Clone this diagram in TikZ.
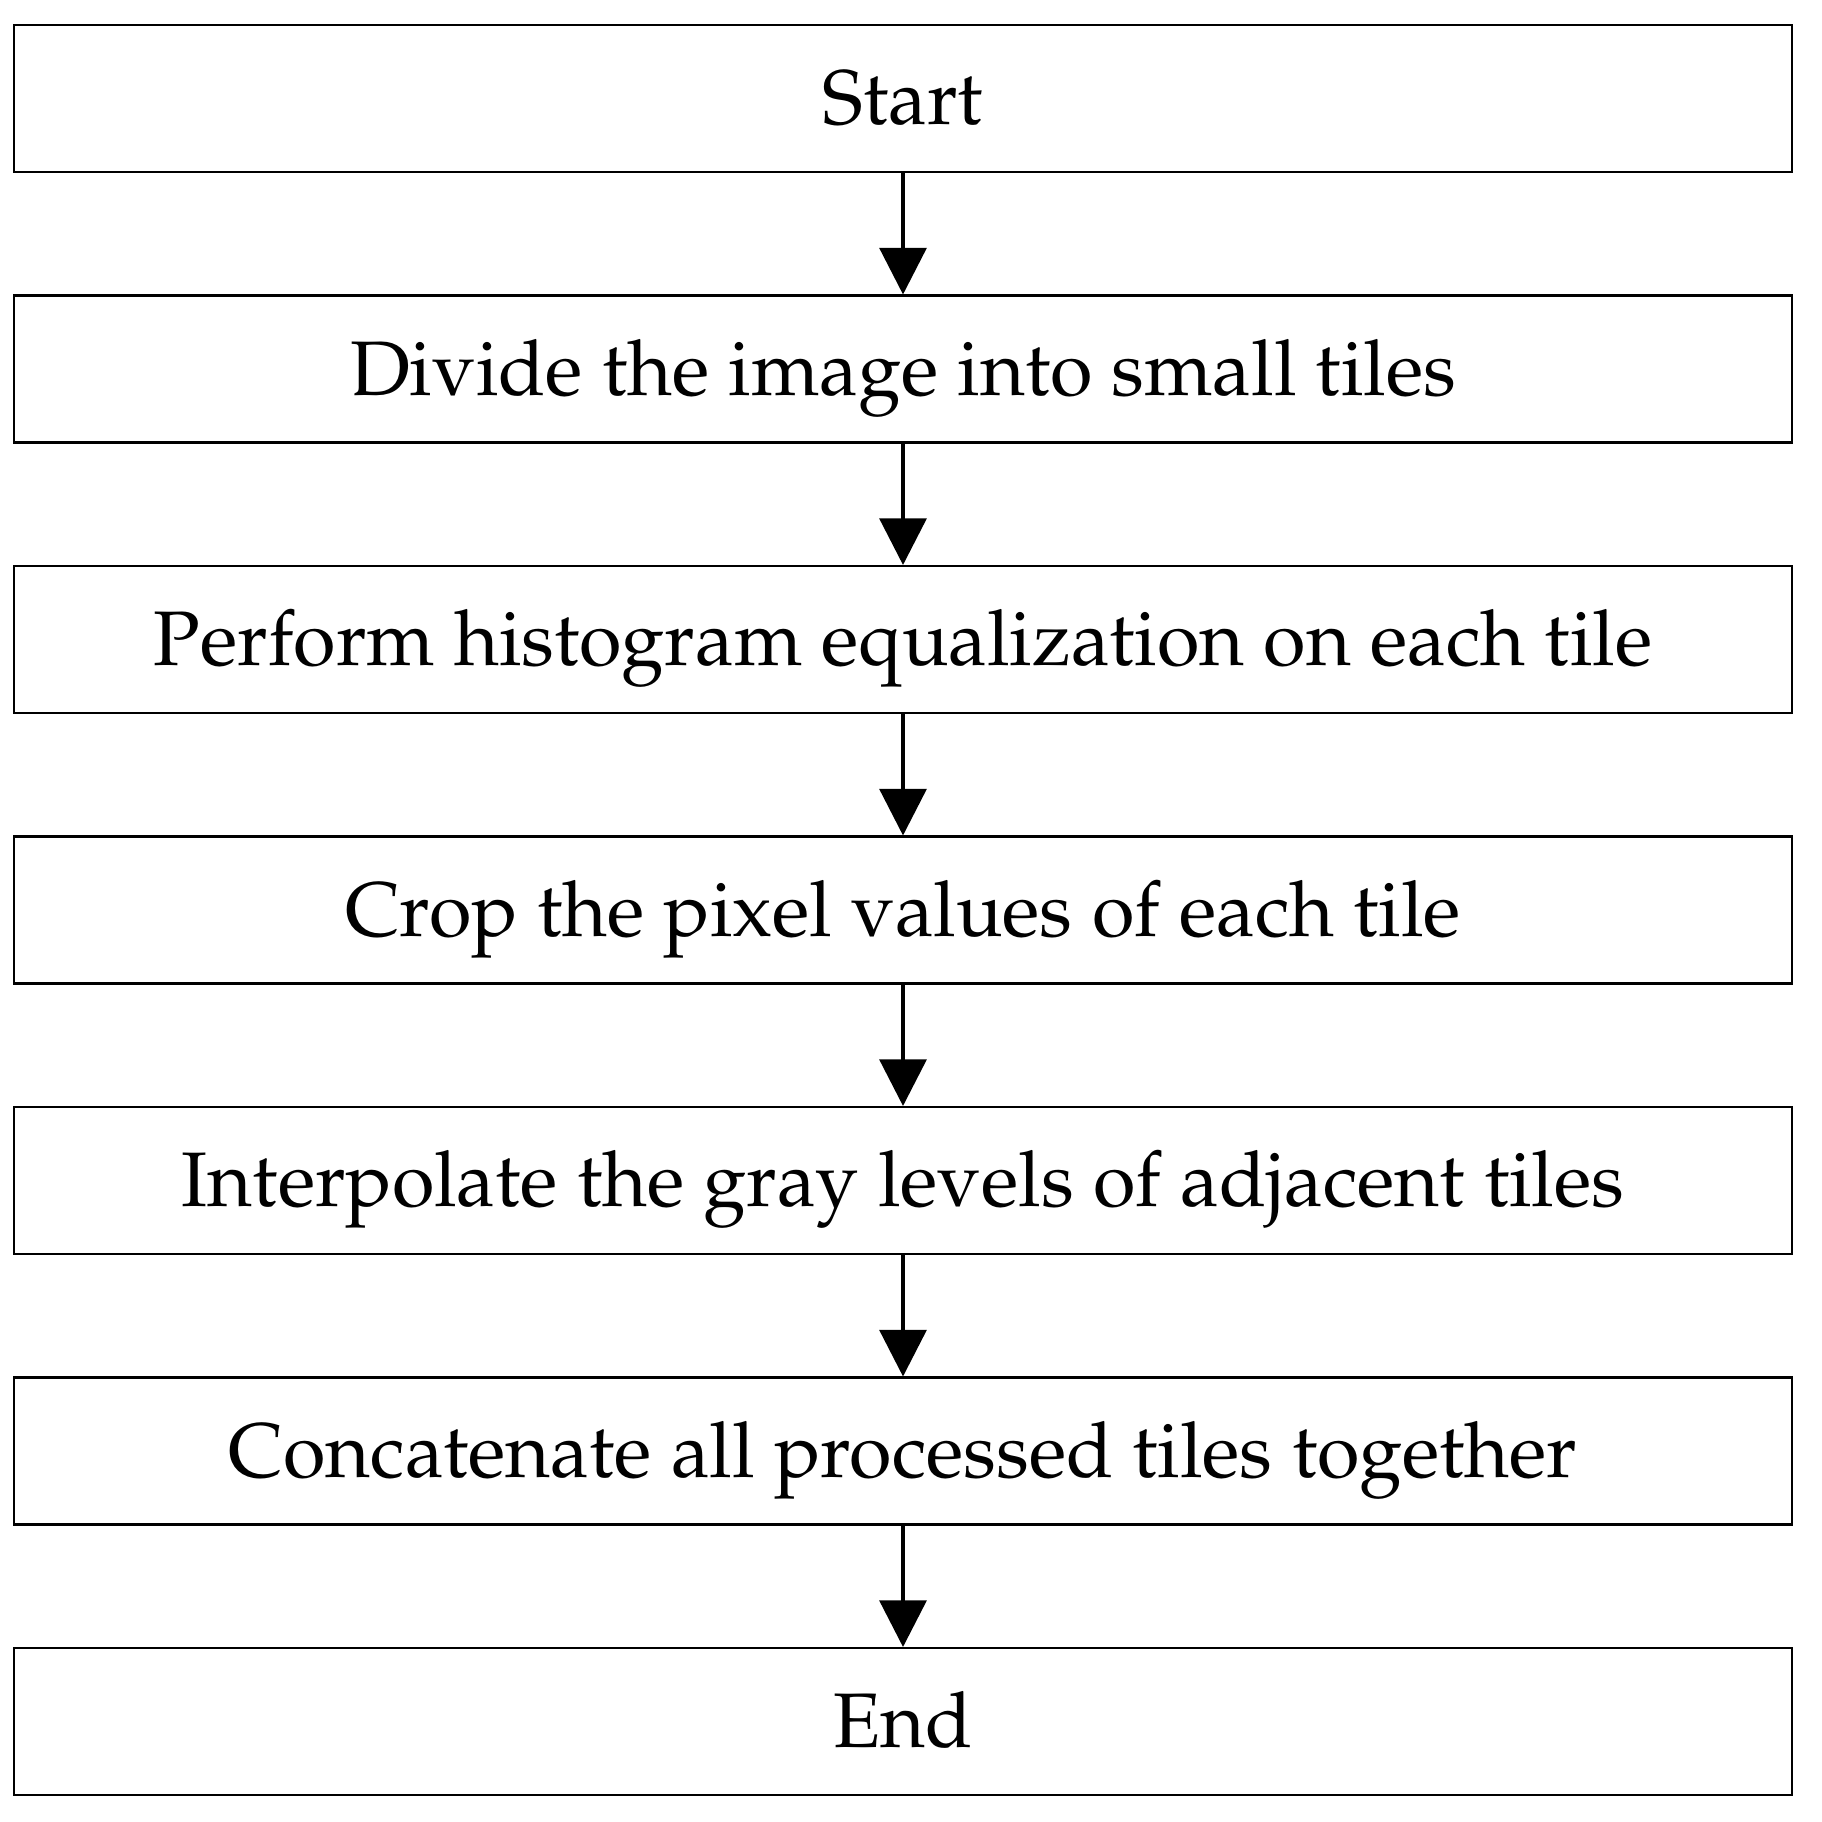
\documentclass[tikz,border=0pt]{standalone}
\usepackage[T1]{fontenc}
\usepackage{mathpazo}
\usetikzlibrary{arrows.meta}
\tikzset{
  stepbox/.style={draw=black, line width=0.8pt, minimum width=533.4pt, minimum height=44.1pt,
    inner sep=0pt, outer sep=0pt, text height=15.8pt, text depth=0pt,
    font=\fontsize{23.2}{27}\selectfont},
  flow/.style={line width=1.3pt, -{Triangle[length=14pt,width=14pt]}, shorten >=0.3pt}
}
\begin{document}
\begin{tikzpicture}[x=0.3pt,y=-0.3pt]
\useasboundingbox (0,0) rectangle (1822,1822);
\node[stepbox] (b1) at (903,98.5) {Start};
\node[stepbox] (b2) at (903,369) {Divide the image into small tiles};
\node[stepbox] (b3) at (903,639.5) {Perform histogram equalization on each tile};
\node[stepbox] (b4) at (903,910) {Crop the pixel values of each tile};
\node[stepbox] (b5) at (903,1180.5) {Interpolate the gray levels of adjacent tiles};
\node[stepbox] (b6) at (903,1451) {Concatenate all processed tiles together};
\node[stepbox] (b7) at (903,1721.5) {End};
\draw[flow] (b1.south) -- (b2.north);
\draw[flow] (b2.south) -- (b3.north);
\draw[flow] (b3.south) -- (b4.north);
\draw[flow] (b4.south) -- (b5.north);
\draw[flow] (b5.south) -- (b6.north);
\draw[flow] (b6.south) -- (b7.north);
\end{tikzpicture}
\end{document}
